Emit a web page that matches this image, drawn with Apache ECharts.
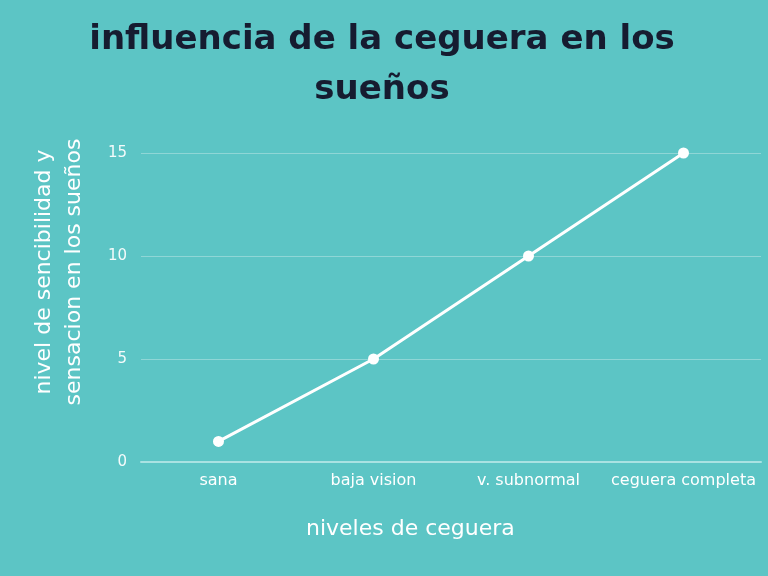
<!DOCTYPE html>
<html>
<head>
<meta charset="utf-8">
<script src="https://cdn.jsdelivr.net/npm/echarts@6/dist/echarts.min.js"></script>
<style>
html,body{margin:0;padding:0;background:#5cc5c5;}
#chart{width:768px;height:576px;}
</style>
</head>
<body>
<div id="chart"></div>
<script>
var categories = ['sana', 'baja vision', 'v. subnormal', 'ceguera completa'];
var values = [1, 5, 10, 15];
var yTicks = [0, 5, 10, 15];

var myChart = echarts.init(document.getElementById('chart'));
var option = {
	backgroundColor: '#5cc5c5',
	title: {
		text: 'influencia de la ceguera en los\nsueños',
		left: 377,
		top: 10,
		textAlign: 'center',
		textStyle: {
			color: '#161c30',
			fontFamily: 'DejaVu Sans',
			fontWeight: 'bold',
			fontSize: 34,
			lineHeight: 50
		}
	},
	grid: {
		left: 141,
		right: 7,
		top: 153,
		bottom: 114
	},
	xAxis: {
		type: 'category',
		data: categories,
		axisLine: { lineStyle: { color: '#a9e2e2', width: 2 } },
		axisTick: { show: false },
		axisLabel: { color: '#ffffff', fontSize: 16, fontFamily: 'DejaVu Sans', margin: 11, interval: 0 }
	},
	yAxis: {
		type: 'value',
		min: yTicks[0],
		max: yTicks[yTicks.length - 1],
		interval: 5,
		axisLine: { show: false },
		axisTick: { show: false },
		splitLine: { lineStyle: { color: '#8fd6d6', width: 1 } },
		axisLabel: { color: '#f4fbfb', fontSize: 15, fontFamily: 'DejaVu Sans', margin: 14 }
	},
	graphic: [
		{
			type: 'text',
			left: 306,
			top: 518,
			style: {
				text: 'niveles de ceguera',
				fill: '#ffffff',
				font: '22px "DejaVu Sans"'
			}
		},
		{
			type: 'text',
			x: 59,
			y: 272,
			rotation: Math.PI / 2,
			style: {
				text: 'nivel de sencibilidad y\nsensacion en los sueños',
				fill: '#ffffff',
				font: '22px "DejaVu Sans"',
				lineHeight: 30,
				align: 'center',
				verticalAlign: 'middle'
			}
		}
	],
	series: [
		{
			type: 'line',
			data: values,
			symbol: 'circle',
			symbolSize: 11,
			lineStyle: { color: '#ffffff', width: 3 },
			itemStyle: { color: '#ffffff' }
		}
	]
};
myChart.setOption(option, true);
</script>
</body>
</html>
